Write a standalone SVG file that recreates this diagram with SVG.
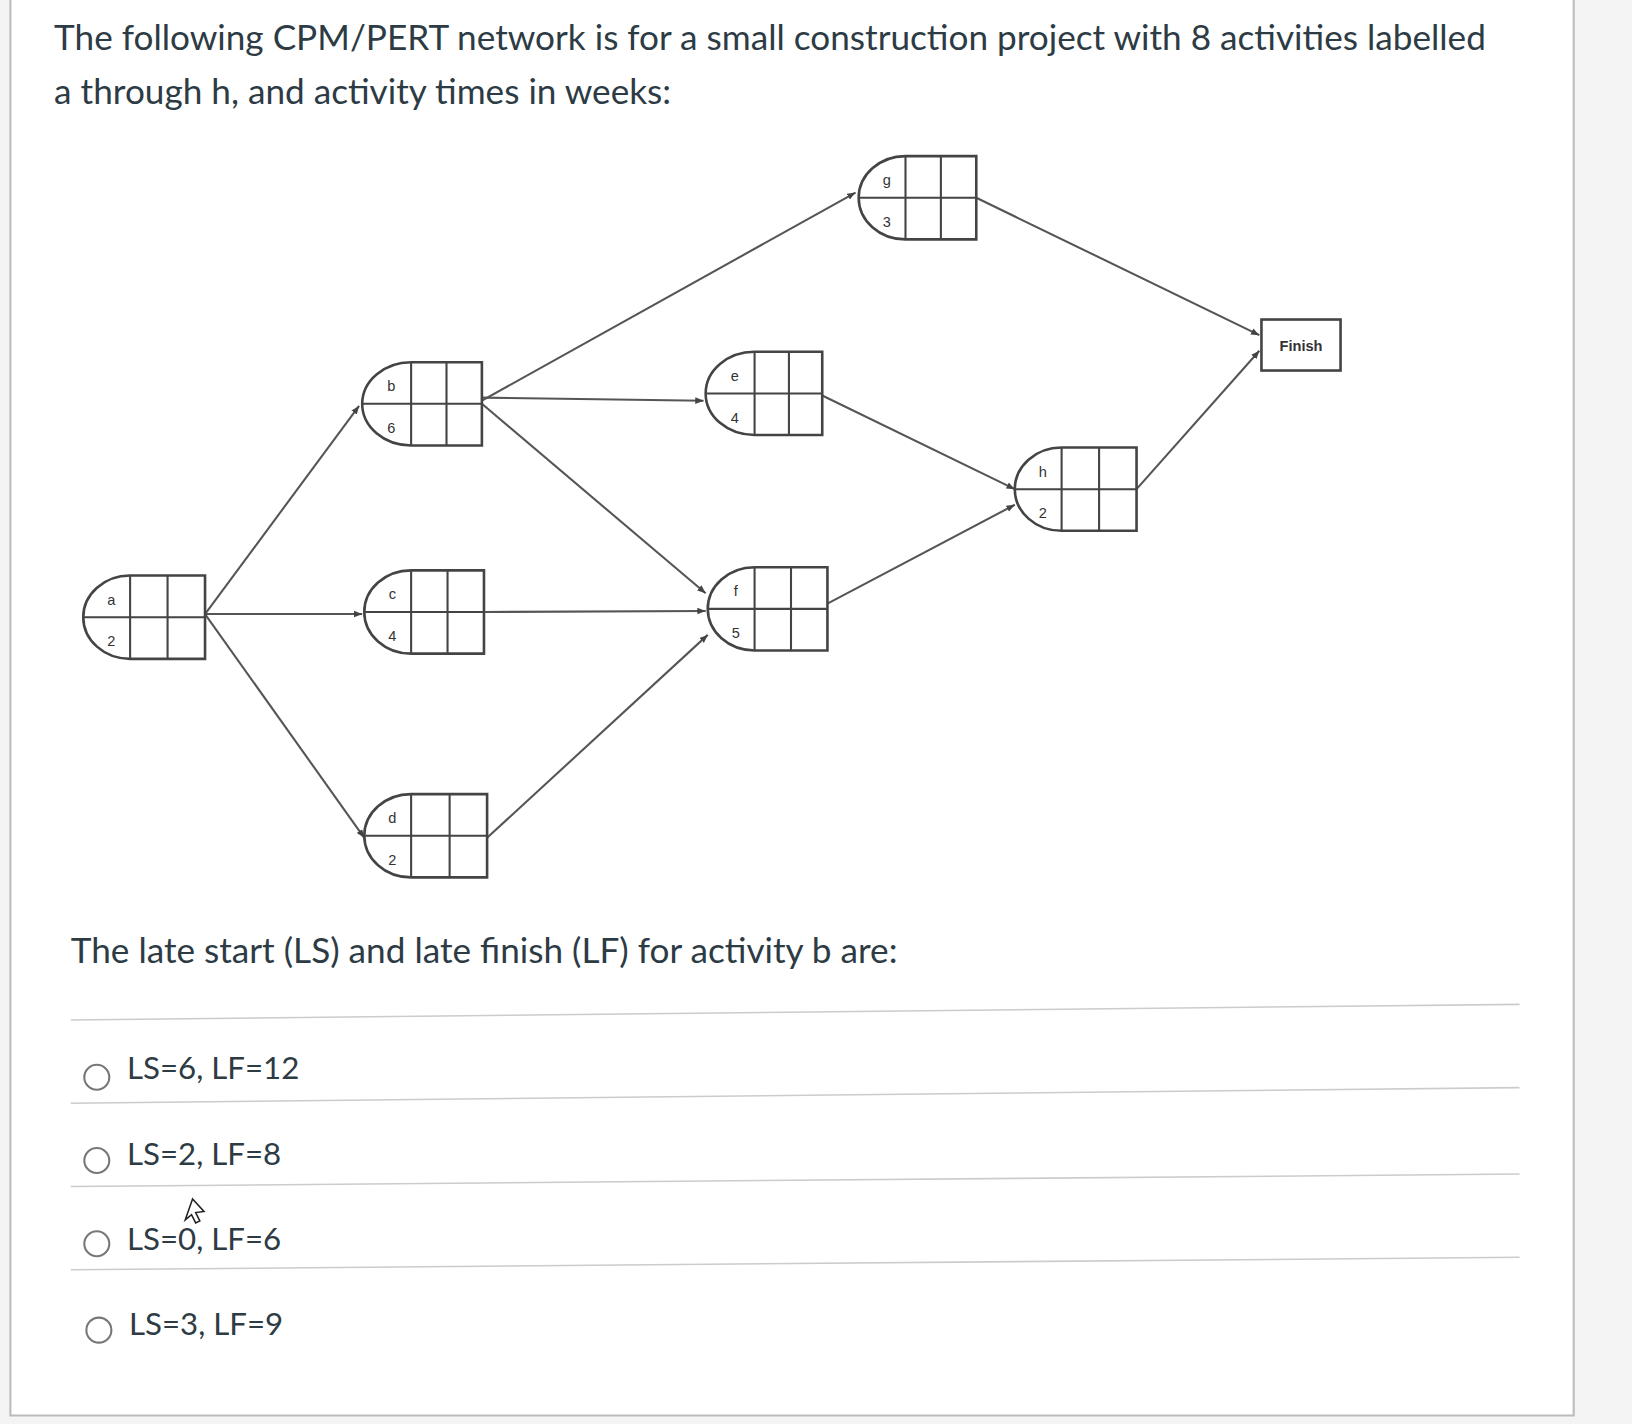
<svg xmlns="http://www.w3.org/2000/svg" width="1632" height="1424" viewBox="0 0 1632 1424">
<style>
.n{fill:#fff;stroke:#444;stroke-width:2.5}
.g{fill:none;stroke:#444;stroke-width:2}
.e{stroke:#555;stroke-width:2;fill:none;marker-end:url(#ar)}
.t{font-family:"Liberation Sans",Arial,sans-serif;font-size:14px;fill:#333;text-anchor:middle}
.q{font-family:Lato,"Liberation Sans",sans-serif;font-size:33.8px;fill:#2d3b45}
.o{font-family:Lato,"Liberation Sans",sans-serif;font-size:30px;fill:#2d3b45}
.sep{stroke:#ccc;stroke-width:1.5}
</style>
<defs>
<marker id="ar" viewBox="0 0 10 10" refX="10" refY="5" markerWidth="8" markerHeight="8" orient="auto" markerUnits="userSpaceOnUse"><path d="M0,1 L10,5 L0,9 z" fill="#444"/></marker>
</defs>
<rect width="1632" height="1424" fill="#f4f4f4"/>
<g transform="scale(1.0408)">
<path d="M10,0 V1360 H1512 V0" fill="#fff" stroke="#bbb" stroke-width="2"/>
<text class="q" x="52" y="48">The following CPM/PERT network is for a small construction project with 8 activities labelled</text>
<text class="q" x="52" y="100">a through h, and activity times in weeks:</text>
<g id="connectors">
<line class="e" x1="197" y1="590" x2="345" y2="390"/>
<line class="e" x1="197" y1="590" x2="348" y2="590"/>
<line class="e" x1="197" y1="590" x2="350" y2="805"/>
<line class="e" x1="463" y1="385" x2="822" y2="185"/>
<line class="e" x1="463" y1="382" x2="676" y2="385"/>
<line class="e" x1="463" y1="388" x2="678" y2="570"/>
<line class="e" x1="465" y1="588" x2="678" y2="587"/>
<line class="e" x1="468" y1="805" x2="680" y2="610"/>
<line class="e" x1="790" y1="380" x2="975" y2="470"/>
<line class="e" x1="795" y1="580" x2="975" y2="485"/>
<line class="e" x1="938" y1="190" x2="1210" y2="322"/>
<line class="e" x1="1092" y1="470" x2="1210" y2="337"/>
</g>
<g id="a" transform="translate(80,553)"><path class="n" d="M45,0 H117 V80 H45 A45,40 0 0 1 45,0 Z"/><path class="g" d="M0,40 H117 M45,0 V80 M81,0 V80"/><text class="t" x="27" y="28">a</text><text class="t" x="27" y="68">2</text></g>
<g id="b" transform="translate(348,348)"><path class="n" d="M47,0 H115 V80 H47 A47,40 0 0 1 47,0 Z"/><path class="g" d="M0,40 H115 M47,0 V80 M81,0 V80"/><text class="t" x="28" y="28">b</text><text class="t" x="28" y="68">6</text></g>
<g id="c" transform="translate(350,548)"><path class="n" d="M45,0 H115 V80 H45 A45,40 0 0 1 45,0 Z"/><path class="g" d="M0,40 H115 M45,0 V80 M80,0 V80"/><text class="t" x="27" y="28">c</text><text class="t" x="27" y="68">4</text></g>
<g id="d" transform="translate(350,763)"><path class="n" d="M45,0 H118 V80 H45 A45,40 0 0 1 45,0 Z"/><path class="g" d="M0,40 H118 M45,0 V80 M82,0 V80"/><text class="t" x="27" y="28">d</text><text class="t" x="27" y="68">2</text></g>
<g id="e" transform="translate(678,338)"><path class="n" d="M47,0 H112 V80 H47 A47,40 0 0 1 47,0 Z"/><path class="g" d="M0,40 H112 M47,0 V80 M80,0 V80"/><text class="t" x="28" y="28">e</text><text class="t" x="28" y="68">4</text></g>
<g id="f" transform="translate(680,545)"><path class="n" d="M45,0 H115 V80 H45 A45,40 0 0 1 45,0 Z"/><path class="g" d="M0,40 H115 M45,0 V80 M80,0 V80"/><text class="t" x="27" y="28">f</text><text class="t" x="27" y="68">5</text></g>
<g id="g" transform="translate(825,150)"><path class="n" d="M45,0 H113 V80 H45 A45,40 0 0 1 45,0 Z"/><path class="g" d="M0,40 H113 M45,0 V80 M79,0 V80"/><text class="t" x="27" y="28">g</text><text class="t" x="27" y="68">3</text></g>
<g id="h" transform="translate(975,430)"><path class="n" d="M45,0 H117 V80 H45 A45,40 0 0 1 45,0 Z"/><path class="g" d="M0,40 H117 M45,0 V80 M81,0 V80"/><text class="t" x="27" y="28">h</text><text class="t" x="27" y="68">2</text></g>
<g id="finish"><rect class="n" x="1212" y="307" width="76" height="49"/><text class="t" x="1250" y="337" font-weight="bold">Finish</text></g>
<text class="q" x="68" y="925">The late start (LS) and late finish (LF) for activity b are:</text>
<line class="sep" x1="68" y1="980" x2="1460" y2="965"/>
<line class="sep" x1="68" y1="1060" x2="1460" y2="1045"/>
<line class="sep" x1="68" y1="1140" x2="1460" y2="1128"/>
<line class="sep" x1="68" y1="1220" x2="1460" y2="1208"/>
<g fill="none" stroke="#777" stroke-width="2"><circle cx="93" cy="1035" r="12"/><circle cx="93" cy="1115" r="12"/><circle cx="93" cy="1195" r="12"/><circle cx="95" cy="1278" r="12"/></g>
<text class="o" x="122" y="1037">LS=6, LF=12</text>
<text class="o" x="122" y="1119">LS=2, LF=8</text>
<text class="o" x="122" y="1201">LS=0, LF=6</text>
<text class="o" x="124" y="1283">LS=3, LF=9</text>
<path d="M185,1152 L178,1172 L184,1167 L188,1175 L192,1173 L188,1165 L196,1164 Z" fill="#fff" stroke="#222" stroke-width="1.5"/>
</g>
</svg>
